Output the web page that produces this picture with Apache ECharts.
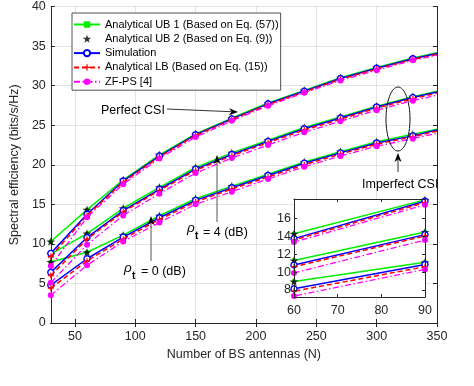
<!DOCTYPE html>
<html>
<head>
<meta charset="utf-8">
<script src="https://cdn.jsdelivr.net/npm/echarts@6/dist/echarts.min.js"></script>
<style>
html,body{margin:0;padding:0;background:#fff;}
#c{width:474px;height:386px;}
</style>
</head>
<body>
<div id="c"></div>
<script>
// ---------- data ----------
const antennas = [30, 60, 90, 120, 150, 180, 210, 240, 270, 300, 330, 350];

// Perfect CSI
const ubPerfect  = [10.3, 14.3, 18.1, 21.25, 23.9, 25.9, 27.8, 29.4, 31.0, 32.3, 33.5, 34.15];
const simPerfect = [8.8, 13.75, 17.95, 21.1, 23.8, 25.8, 27.7, 29.3, 30.9, 32.2, 33.4, 34.05];
const lbPerfect  = [8.4, 13.6, 17.8, 21.0, 23.7, 25.7, 27.6, 29.2, 30.8, 32.1, 33.3, 33.95];
const zfPerfect  = [7.2, 13.36, 17.55, 20.8, 23.5, 25.55, 27.45, 29.1, 30.65, 31.95, 33.2, 33.85];

// Imperfect CSI, rho_t = 4 dB
const ubRho4  = [8.7, 11.3, 14.5, 17.15, 19.65, 21.5, 23.1, 24.7, 26.05, 27.4, 28.6, 29.3];
const simRho4 = [6.4, 10.8, 14.2, 16.9, 19.45, 21.3, 22.95, 24.55, 25.9, 27.3, 28.5, 29.2];
const lbRho4  = [6.0, 10.6, 14.05, 16.75, 19.3, 21.15, 22.8, 24.4, 25.75, 27.15, 28.35, 29.05];
const zfRho4  = [5.1, 9.9, 13.6, 16.35, 18.95, 20.85, 22.5, 24.1, 25.5, 26.9, 28.1, 28.8];

// Imperfect CSI, rho_t = 0 dB
const ubRho0  = [7.7, 8.94, 11.1, 13.55, 15.7, 17.3, 18.8, 20.35, 21.65, 22.9, 23.85, 24.5];
const simRho0 = [4.8, 8.12, 10.85, 13.3, 15.5, 17.1, 18.65, 20.2, 21.5, 22.75, 23.65, 24.4];
const lbRho0  = [4.4, 7.85, 10.6, 13.1, 15.3, 16.95, 18.45, 20.0, 21.35, 22.6, 23.55, 24.25];
const zfRho0  = [3.5, 7.3, 10.3, 12.7, 15.0, 16.6, 18.2, 19.75, 21.1, 22.35, 23.3, 24.0];

const seriesNames = [
  'Analytical UB 1 (Based on Eq. (57))',
  'Analytical UB 2 (Based on Eq. (9))',
  'Simulation',
  'Analytical LB (Based on Eq. (15))',
  'ZF-PS [4]'
];
const mainXTicks = [50, 100, 150, 200, 250, 300, 350];
const insetYTicks = [8, 10, 12, 14, 16];

// ---------- chart ----------
const FONT = "'Liberation Sans', Arial, Helvetica, sans-serif";
const TXT = '#262626';
const chart = echarts.init(document.getElementById('c'), null, {renderer: 'canvas', width: 474, height: 386});

const STAR = 'path://M0,-10 L2.35,-3.24 L9.51,-3.09 L3.8,1.24 L5.88,8.09 L0,4 L-5.88,8.09 L-3.8,1.24 L-9.51,-3.09 L-2.35,-3.24 Z';
const PLUS = 'path://M-1,-0.2 L-0.2,-0.2 L-0.2,-1 L0.2,-1 L0.2,-0.2 L1,-0.2 L1,0.2 L0.2,0.2 L0.2,1 L-0.2,1 L-0.2,0.2 L-1,0.2 Z';

const zip = arr => antennas.map((n, i) => [n, arr[i]]);
const lastIdx = antennas.length - 1;
const sizeFn = s => (v, p) => (p.dataIndex === lastIdx ? 0 : s);

const groups = [
  [ubPerfect, simPerfect, lbPerfect, zfPerfect],
  [ubRho4, simRho4, lbRho4, zfRho4],
  [ubRho0, simRho0, lbRho0, zfRho0]
];

const series = [];
[0, 1].forEach(gi => {
  const xi = gi === 0 ? 0 : 2;
  const yi = gi === 0 ? 0 : 2;
  const zb = gi === 0 ? 2 : 6;
  groups.forEach(([ub, sim, lb, zf]) => {
    series.push({
      type: 'line', name: seriesNames[0], xAxisIndex: xi, yAxisIndex: yi, z: zb,
      data: zip(ub), symbol: 'rect', symbolSize: sizeFn(4),
      lineStyle: {color: '#00ee00', width: 1.5}, itemStyle: {color: '#00ee00'}, clip: true
    });
    series.push({
      type: 'scatter', name: seriesNames[1], xAxisIndex: xi, yAxisIndex: yi, z: zb + 0.1,
      data: zip(ub).slice(0, lastIdx), symbol: STAR, symbolSize: 9, symbolKeepAspect: true,
      itemStyle: {color: '#000'}, clip: true
    });
    series.push({
      type: 'line', name: seriesNames[2], xAxisIndex: xi, yAxisIndex: yi, z: zb + 0.2,
      data: zip(sim), symbol: 'circle', symbolSize: sizeFn(6),
      lineStyle: {color: '#0000ff', width: 1.5},
      itemStyle: {color: '#ffffff', borderColor: '#0000ff', borderWidth: 1.4}, clip: true
    });
    series.push({
      type: 'line', name: seriesNames[3], xAxisIndex: xi, yAxisIndex: yi, z: zb + 0.3,
      data: zip(lb), symbol: PLUS, symbolSize: sizeFn(6),
      lineStyle: {color: '#ff0000', width: 1.5, type: [5, 3]},
      itemStyle: {color: '#ff0000'}, clip: true
    });
    series.push({
      type: 'line', name: seriesNames[4], xAxisIndex: xi, yAxisIndex: yi, z: zb + 0.4,
      data: zip(zf), symbol: 'circle', symbolSize: sizeFn(6),
      lineStyle: {color: '#ff00ff', width: 1.3, type: [6, 2.5, 1.5, 2.5]},
      itemStyle: {color: '#ff00ff'}, clip: true
    });
  });
});

const labelStyle = {color: TXT, fontFamily: FONT, fontSize: 12.5};
const axisLineStyle = {lineStyle: {color: TXT, width: 1}};

const option = {
  animation: false,
  backgroundColor: '#fff',
  textStyle: {fontFamily: FONT},
  grid: [
    {left: 34, right: 37, top: 5, bottom: 63, containLabel: false},
    {left: 294, top: 199, width: 131, height: 98, containLabel: false}
  ],
  legend: {
    data: seriesNames,
    orient: 'vertical',
    left: 72, top: 13,
    itemWidth: 26, itemHeight: 8, itemGap: 3.3,
    padding: [6, 2, 3, 1],
    backgroundColor: '#fff',
    borderColor: TXT, borderWidth: 0.8, borderRadius: 0,
    textStyle: {color: '#000', fontFamily: FONT, fontSize: 11},
    selectedMode: false, z: 20
  },
  xAxis: [
    {type: 'value', gridIndex: 0, min: 30, max: 350,
     name: 'Number of BS antennas (N)', nameLocation: 'middle', nameGap: 21,
     nameTextStyle: {color: TXT, fontFamily: FONT, fontSize: 12.5},
     axisLine: axisLineStyle,
     axisTick: {inside: true, length: 4, customValues: mainXTicks, lineStyle: {color: TXT}},
     axisLabel: Object.assign({customValues: mainXTicks, margin: 7}, labelStyle),
     splitLine: {show: true, lineStyle: {color: '#e3e3e3', width: 1}}},
    {type: 'value', gridIndex: 0, min: 30, max: 350, position: 'top',
     axisLine: axisLineStyle,
     axisTick: {inside: true, length: 4, customValues: mainXTicks, lineStyle: {color: TXT}},
     axisLabel: {show: false}, splitLine: {show: false}},
    {type: 'value', gridIndex: 1, min: 60, max: 90, interval: 10, z: 8,
     axisLine: axisLineStyle,
     axisTick: {inside: true, length: 3, lineStyle: {color: TXT}},
     axisLabel: Object.assign({margin: 7}, labelStyle),
     splitLine: {show: false}},
    {type: 'value', gridIndex: 1, min: 60, max: 90, interval: 10, position: 'top', z: 8,
     axisLine: axisLineStyle,
     axisTick: {inside: true, length: 3, lineStyle: {color: TXT}},
     axisLabel: {show: false}, splitLine: {show: false}}
  ],
  yAxis: [
    {type: 'value', gridIndex: 0, min: 0, max: 40, interval: 5,
     name: 'Spectral efficiency (bits/s/Hz)', nameLocation: 'middle', nameGap: 22,
     nameTextStyle: {color: TXT, fontFamily: FONT, fontSize: 12.5},
     axisLine: axisLineStyle,
     axisTick: {inside: true, length: 4, lineStyle: {color: TXT}},
     axisLabel: Object.assign({margin: 5}, labelStyle),
     splitLine: {show: true, lineStyle: {color: '#e3e3e3', width: 1}}},
    {type: 'value', gridIndex: 0, min: 0, max: 40, interval: 5, position: 'right',
     axisLine: axisLineStyle,
     axisTick: {inside: true, length: 4, lineStyle: {color: TXT}},
     axisLabel: {show: false}, splitLine: {show: false}},
    {type: 'value', gridIndex: 1, min: 7.2, max: 18.2, z: 8,
     axisLine: axisLineStyle,
     axisTick: {inside: true, length: 3, customValues: insetYTicks, lineStyle: {color: TXT}},
     axisLabel: Object.assign({customValues: insetYTicks, margin: 3}, labelStyle),
     splitLine: {show: false}},
    {type: 'value', gridIndex: 1, min: 7.2, max: 18.2, position: 'right', z: 8,
     axisLine: axisLineStyle,
     axisTick: {inside: true, length: 3, customValues: insetYTicks, lineStyle: {color: TXT}},
     axisLabel: {show: false}, splitLine: {show: false}}
  ],
  series: series,
  graphic: [
    // white background of inset
    {type: 'rect', z: 4, shape: {x: 294, y: 199, width: 131, height: 98}, style: {fill: '#fff'}, silent: true},
    // Perfect CSI
    {type: 'text', z: 30, x: 101, y: 111, style: {text: 'Perfect CSI', fill: '#000', font: '12.5px ' + FONT, verticalAlign: 'middle'}},
    {type: 'line', z: 30, shape: {x1: 167, y1: 109, x2: 231, y2: 111.7}, style: {stroke: '#333', lineWidth: 1}},
    {type: 'polygon', z: 30, shape: {points: [[238, 112], [229.2, 108.2], [231.5, 111.8], [228.9, 115.2]]}, style: {fill: '#000'}},
    // Imperfect CSI
    {type: 'ellipse', z: 30, shape: {cx: 398, cy: 119, rx: 12, ry: 32}, style: {fill: 'none', stroke: '#111', lineWidth: 1}},
    {type: 'line', z: 30, shape: {x1: 398, y1: 172, x2: 398, y2: 160}, style: {stroke: '#333', lineWidth: 1}},
    {type: 'polygon', z: 30, shape: {points: [[398, 153], [394.5, 162], [398, 159.5], [401.5, 162]]}, style: {fill: '#000'}},
    {type: 'text', z: 30, x: 362, y: 185, style: {text: 'Imperfect CSI', fill: '#000', font: '12.5px ' + FONT, verticalAlign: 'middle'}},
    // rho_t = 4
    {type: 'line', z: 30, shape: {x1: 217, y1: 222, x2: 217, y2: 162}, style: {stroke: '#555', lineWidth: 1}},
    {type: 'polygon', z: 30, shape: {points: [[217, 155], [213.5, 164], [217, 161.5], [220.5, 164]]}, style: {fill: '#000'}},
    {type: 'text', z: 30, x: 187, y: 228, style: {text: 'ρ', fill: '#000', font: 'italic 13.5px ' + FONT, verticalAlign: 'middle'}},
    {type: 'text', z: 30, x: 195, y: 236, style: {text: 't', fill: '#000', font: 'bold 10px ' + FONT, verticalAlign: 'middle'}},
    {type: 'text', z: 30, x: 203, y: 232.5, style: {text: '= 4 (dB)', fill: '#000', font: '12.5px ' + FONT, verticalAlign: 'middle'}},
    // rho_t = 0
    {type: 'line', z: 30, shape: {x1: 151, y1: 261, x2: 151, y2: 223}, style: {stroke: '#555', lineWidth: 1}},
    {type: 'polygon', z: 30, shape: {points: [[151, 216], [147.5, 225], [151, 222.5], [154.5, 225]]}, style: {fill: '#000'}},
    {type: 'text', z: 30, x: 124, y: 268, style: {text: 'ρ', fill: '#000', font: 'italic 13.5px ' + FONT, verticalAlign: 'middle'}},
    {type: 'text', z: 30, x: 132, y: 276, style: {text: 't', fill: '#000', font: 'bold 10px ' + FONT, verticalAlign: 'middle'}},
    {type: 'text', z: 30, x: 141, y: 271.5, style: {text: '= 0 (dB)', fill: '#000', font: '12.5px ' + FONT, verticalAlign: 'middle'}}
  ]
};
chart.setOption(option);
</script>
</body>
</html>
